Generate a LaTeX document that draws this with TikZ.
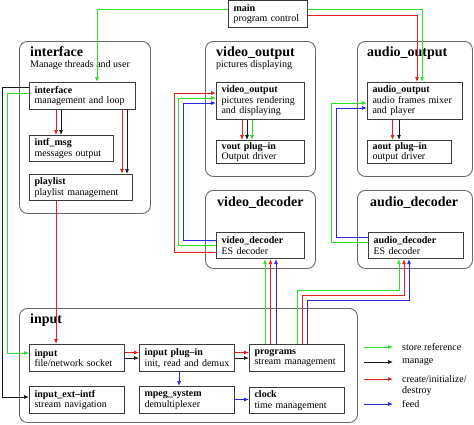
\documentclass[tikz,border=0pt]{standalone}
\usepackage{fontspec}
\setmainfont{Liberation Serif}
\usetikzlibrary{arrows.meta,calc}
\definecolor{cgreen}{RGB}{40,225,40}
\definecolor{cred}{RGB}{230,30,30}
\definecolor{cblue}{RGB}{40,40,215}
\definecolor{cblack}{RGB}{25,25,25}
\definecolor{boxc}{RGB}{60,60,60}
\definecolor{grpc}{RGB}{105,105,105}
\tikzset{
  bx/.style={draw=boxc, line width=1.1pt, fill=white, anchor=north west, inner xsep=5pt, inner ysep=0pt, align=left, font=\fontsize{10}{10.5}\selectfont},
  grp/.style={draw=grpc, line width=0.9pt, rounded corners=8pt, anchor=north west, inner sep=0pt, fill=white},
  gtitle/.style={anchor=base west, inner sep=0pt, font=\fontsize{14}{16}\selectfont\bfseries},
  gsub/.style={anchor=base west, inner sep=0pt, font=\fontsize{10}{11}\selectfont},
  legtext/.style={anchor=west, inner sep=0pt, font=\fontsize{10}{11}\selectfont},
  arr/.style={line width=0.8pt, -{Latex[length=5pt,width=4pt]}},
  gl/.style={arr, draw=cgreen},
  rl/.style={arr, draw=cred},
  bl/.style={arr, draw=cblue},
  kl/.style={arr, draw=cblack},
}
\begin{document}
\begin{tikzpicture}[x=1pt,y=-1pt]
\useasboundingbox (0,0) rectangle (474,424);
% groups
\node[grp, minimum width=131pt, minimum height=172pt] (gIf) at (19,41) {};
\node[grp, minimum width=110pt, minimum height=135pt] (gVo) at (205,41) {};
\node[grp, minimum width=115pt, minimum height=135pt] (gAo) at (357,41) {};
\node[grp, minimum width=110pt, minimum height=78pt] (gVd) at (205,190) {};
\node[grp, minimum width=115pt, minimum height=78pt] (gAd) at (357,190) {};
\node[grp, minimum width=338pt, minimum height=114pt] (gIn) at (19,308) {};
% group titles
\node[gtitle] (tIf) at (30,56.5) {interface};
\node[gsub] (sIf) at (30,67.5) {Manage threads and user};
\node[gtitle] (tVo) at (216,56.5) {video\_output};
\node[gsub] (sVo) at (216,67) {pictures displaying};
\node[gtitle] (tAo) at (367,56.5) {audio\_output};
\node[gtitle] (tVd) at (217,206.5) {video\_decoder};
\node[gtitle] (tAd) at (370,206.5) {audio\_decoder};
\node[gtitle] (tIn) at (30,323) {input};
% boxes
\node[bx, text width=69pt, minimum height=27pt] (main) at (228,0) {\textbf{main}\\\mbox{program control}};
\node[bx, text width=96pt, minimum height=27pt] (ifbox) at (29,82) {\textbf{interface}\\\mbox{management and loop}};
\node[bx, text width=74pt, minimum height=26pt] (msgbox) at (29,135) {\textbf{intf\_msg}\\\mbox{messages output}};
\node[bx, text width=93pt, minimum height=26pt] (plbox) at (29,174) {\textbf{playlist}\\\mbox{playlist management}};
\node[bx, text width=78pt, minimum height=37pt] (vobox) at (216,82) {\textbf{video\_output}\\\mbox{pictures rendering}\\\mbox{and displaying}};
\node[bx, text width=78pt, minimum height=23pt] (voutbox) at (216,140) {\textbf{vout plug--in}\\\mbox{Output driver}};
\node[bx, text width=85pt, minimum height=37pt] (aobox) at (367,82) {\textbf{audio\_output}\\\mbox{audio frames mixer}\\\mbox{and player}};
\node[bx, text width=74pt, minimum height=23pt] (aoutbox) at (367,140) {\textbf{aout plug--in}\\\mbox{output driver}};
\node[bx, text width=78pt, minimum height=26pt] (vdbox) at (216,232) {\textbf{video\_decoder}\\\mbox{ES decoder}};
\node[bx, text width=85pt, minimum height=26pt] (adbox) at (368,232) {\textbf{audio\_decoder}\\\mbox{ES decoder}};
\node[bx, text width=85pt, minimum height=27pt] (inbox) at (29,344) {\textbf{input}\\\mbox{file/network socket}};
\node[bx, text width=85pt, minimum height=27pt] (extbox) at (29,386) {\textbf{input\_ext--intf}\\\mbox{stream navigation}};
\node[bx, text width=85pt, minimum height=27pt] (plugbox) at (139,344) {\textbf{input plug--in}\\\mbox{init, read and demux}};
\node[bx, text width=85pt, minimum height=27pt] (mpegbox) at (139,386) {\textbf{mpeg\_system}\\\mbox{demultiplexer}};
\node[bx, text width=85pt, minimum height=27pt] (progbox) at (249,344) {\textbf{programs}\\\mbox{stream management}};
\node[bx, text width=85pt, minimum height=26pt] (clockbox) at (249,387) {\textbf{clock}\\\mbox{time management}};
% main connectors
\draw[gl] (main.west |- 0,9) -| (ifbox.north -| 97,0);
\draw[gl] (main.east |- 0,9) -| (aobox.north -| 422,0);
\draw[rl] (main.east |- 0,15) -| (aobox.north -| 417,0);
% interface
\draw[kl] (ifbox.west |- 0,87) -| (2.5,397) -- (extbox.west |- 0,397);
\draw[gl] (ifbox.west |- 0,93) -| (7,353) -- (inbox.west |- 0,353);
\draw[rl] (ifbox.south -| 56,0) -- (msgbox.north -| 56,0);
\draw[kl] (ifbox.south -| 61,0) -- (msgbox.north -| 61,0);
\draw[rl] (ifbox.south -| 122,0) -- (plbox.north -| 122,0);
\draw[kl] (ifbox.south -| 127,0) -- (plbox.north -| 127,0);
\draw[rl] (plbox.south -| 56,0) -- (inbox.north -| 56,0);
% input
\draw[rl] (inbox.east |- 0,352.5) -- (plugbox.west |- 0,352.5);
\draw[kl] (inbox.east |- 0,358) -- (plugbox.west |- 0,358);
\draw[rl] (plugbox.east |- 0,352.5) -- (progbox.west |- 0,352.5);
\draw[kl] (plugbox.east |- 0,358) -- (progbox.west |- 0,358);
\draw[bl] (plugbox.south -| 179,0) -- (mpegbox.north -| 179,0);
\draw[bl] (mpegbox.east |- 0,399.5) -- (clockbox.west |- 0,399.5);
% programs to decoders
\draw[gl] (progbox.north -| 265,0) -- (vdbox.south -| 265,0);
\draw[rl] (progbox.north -| 270.5,0) -- (vdbox.south -| 270.5,0);
\draw[bl] (progbox.north -| 276,0) -- (vdbox.south -| 276,0);
\draw[gl] (progbox.north -| 297,0) -- (297,290) -| (adbox.south -| 399,0);
\draw[rl] (progbox.north -| 302,0) -- (302,295) -| (adbox.south -| 404,0);
\draw[bl] (progbox.north -| 307,0) -- (307,300) -| (adbox.south -| 409,0);
% decoders to outputs
\draw[rl] (vdbox.west |- 0,252) -| (174,93) -- (vobox.west |- 0,93);
\draw[gl] (vdbox.west |- 0,245.5) -| (178.5,98) -- (vobox.west |- 0,98);
\draw[bl] (vdbox.west |- 0,240) -| (183,103) -- (vobox.west |- 0,103);
\draw[gl] (adbox.west |- 0,242.5) -| (331,103) -- (aobox.west |- 0,103);
\draw[bl] (adbox.west |- 0,237) -| (336,108) -- (aobox.west |- 0,108);
% output internals
\draw[rl] (vobox.south -| 242,0) -- (voutbox.north -| 242,0);
\draw[kl] (vobox.south -| 247,0) -- (voutbox.north -| 247,0);
\draw[gl] (vobox.south -| 252,0) -- (voutbox.north -| 252,0);
\draw[rl] (aobox.south -| 392.5,0) -- (aoutbox.north -| 392.5,0);
\draw[kl] (aobox.south -| 399,0) -- (aoutbox.north -| 399,0);
% legend
\node[legtext] (lg1) at (402,347) {store reference};
\node[legtext] (lg2) at (402,362) {manage};
\node[legtext] (lg3) at (402,379) {create/initialize/};
\node[legtext] (lg3b) at (402,391.5) {destroy};
\node[legtext] (lg4) at (402,404) {feed};
\coordinate (lc1) at (364,347);
\coordinate (lc2) at (364,362);
\coordinate (lc3) at (364,379);
\coordinate (lc4) at (364,404);
\draw[gl] (lc1) -- ($(lg1.west)+(-9,0)$);
\draw[kl] (lc2) -- ($(lg2.west)+(-9,0)$);
\draw[rl] (lc3) -- ($(lg3.west)+(-9,0)$);
\draw[bl] (lc4) -- ($(lg4.west)+(-9,0)$);
\end{tikzpicture}
\end{document}
